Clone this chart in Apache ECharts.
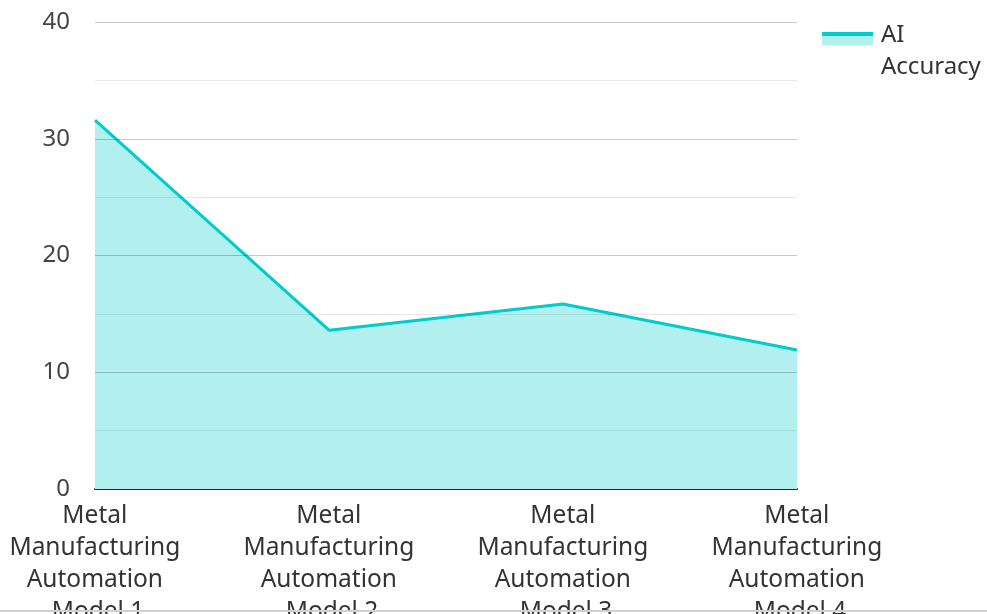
<!DOCTYPE html>
<html>
<head>
<meta charset="utf-8">
<script src="https://cdn.jsdelivr.net/npm/echarts@6/dist/echarts.min.js"></script>
<style>html,body{margin:0;padding:0;background:#fff;}#c{width:987px;height:614px;}</style>
</head>
<body>
<div id="c"></div>
<script>
const categories = [
  "Metal Manufacturing Automation Model 1",
  "Metal Manufacturing Automation Model 2",
  "Metal Manufacturing Automation Model 3",
  "Metal Manufacturing Automation Model 4"
];
const seriesName = "AI Accuracy";
const accuracy = [31.6, 13.6, 15.85, 11.9];
const yTicks = { min: 0, max: 40, interval: 10 };

const chart = echarts.init(document.getElementById('c'));
const font = '"Noto Sans", "Open Sans", sans-serif';
const legendIcon = new echarts.graphic.LinearGradient(0, 0, 0, 1, [
  { offset: 0, color: '#00cccc' }, { offset: 0.105, color: '#00cccc' },
  { offset: 0.105, color: '#b2efef' }, { offset: 0.34, color: '#b2efef' },
  { offset: 0.34, color: 'rgba(255,255,255,0)' }, { offset: 1, color: 'rgba(255,255,255,0)' }
]);
chart.setOption({
  animation: false,
  textStyle: { fontFamily: font },
  grid: { left: 95, right: 190, top: 22, bottom: 125, containLabel: false, outerBoundsMode: 'none' },
  legend: {
    left: 822, top: 19, orient: 'vertical', padding: 0,
    itemWidth: 51, itemHeight: 38,
    formatter: () => 'AI\nAccuracy',
    textStyle: { fontFamily: font, fontSize: 24, color: '#333', lineHeight: 32, padding: [0, 0, 0, 3] },
    data: [{ name: seriesName, icon: 'rect', itemStyle: { color: legendIcon } }]
  },
  xAxis: {
    type: 'category', data: categories, boundaryGap: false,
    axisLine: { lineStyle: { color: '#333', width: 2 } },
    axisTick: { show: false },
    axisLabel: { interval: 0, width: 190, overflow: 'break', fontSize: 24.5, lineHeight: 32, color: '#333', margin: 11, padding: [0, 0, 0, 6], fontFamily: font }
  },
  yAxis: {
    type: 'value', min: yTicks.min, max: yTicks.max, interval: yTicks.interval, z: 5,
    axisLine: { show: false }, axisTick: { show: false },
    axisLabel: { fontSize: 24, color: '#444', margin: 25, fontFamily: font },
    splitLine: { lineStyle: { color: 'rgba(0,0,0,0.22)', width: 1 } },
    minorTick: { show: false, splitNumber: 2 },
    minorSplitLine: { show: true, lineStyle: { color: 'rgba(0,0,0,0.09)', width: 1 } }
  },
  series: [{
    name: seriesName, type: 'line', data: accuracy, symbol: 'none',
    lineStyle: { color: '#00cccc', width: 3 },
    itemStyle: { color: '#00cccc' },
    areaStyle: { color: '#b2efef', opacity: 1 }
  }],
  graphic: [{ type: 'line', shape: { x1: 0, y1: 611, x2: 987, y2: 611 }, style: { stroke: '#d0d0d0', lineWidth: 2 }, z: 100 }]
});
</script>
</body>
</html>
